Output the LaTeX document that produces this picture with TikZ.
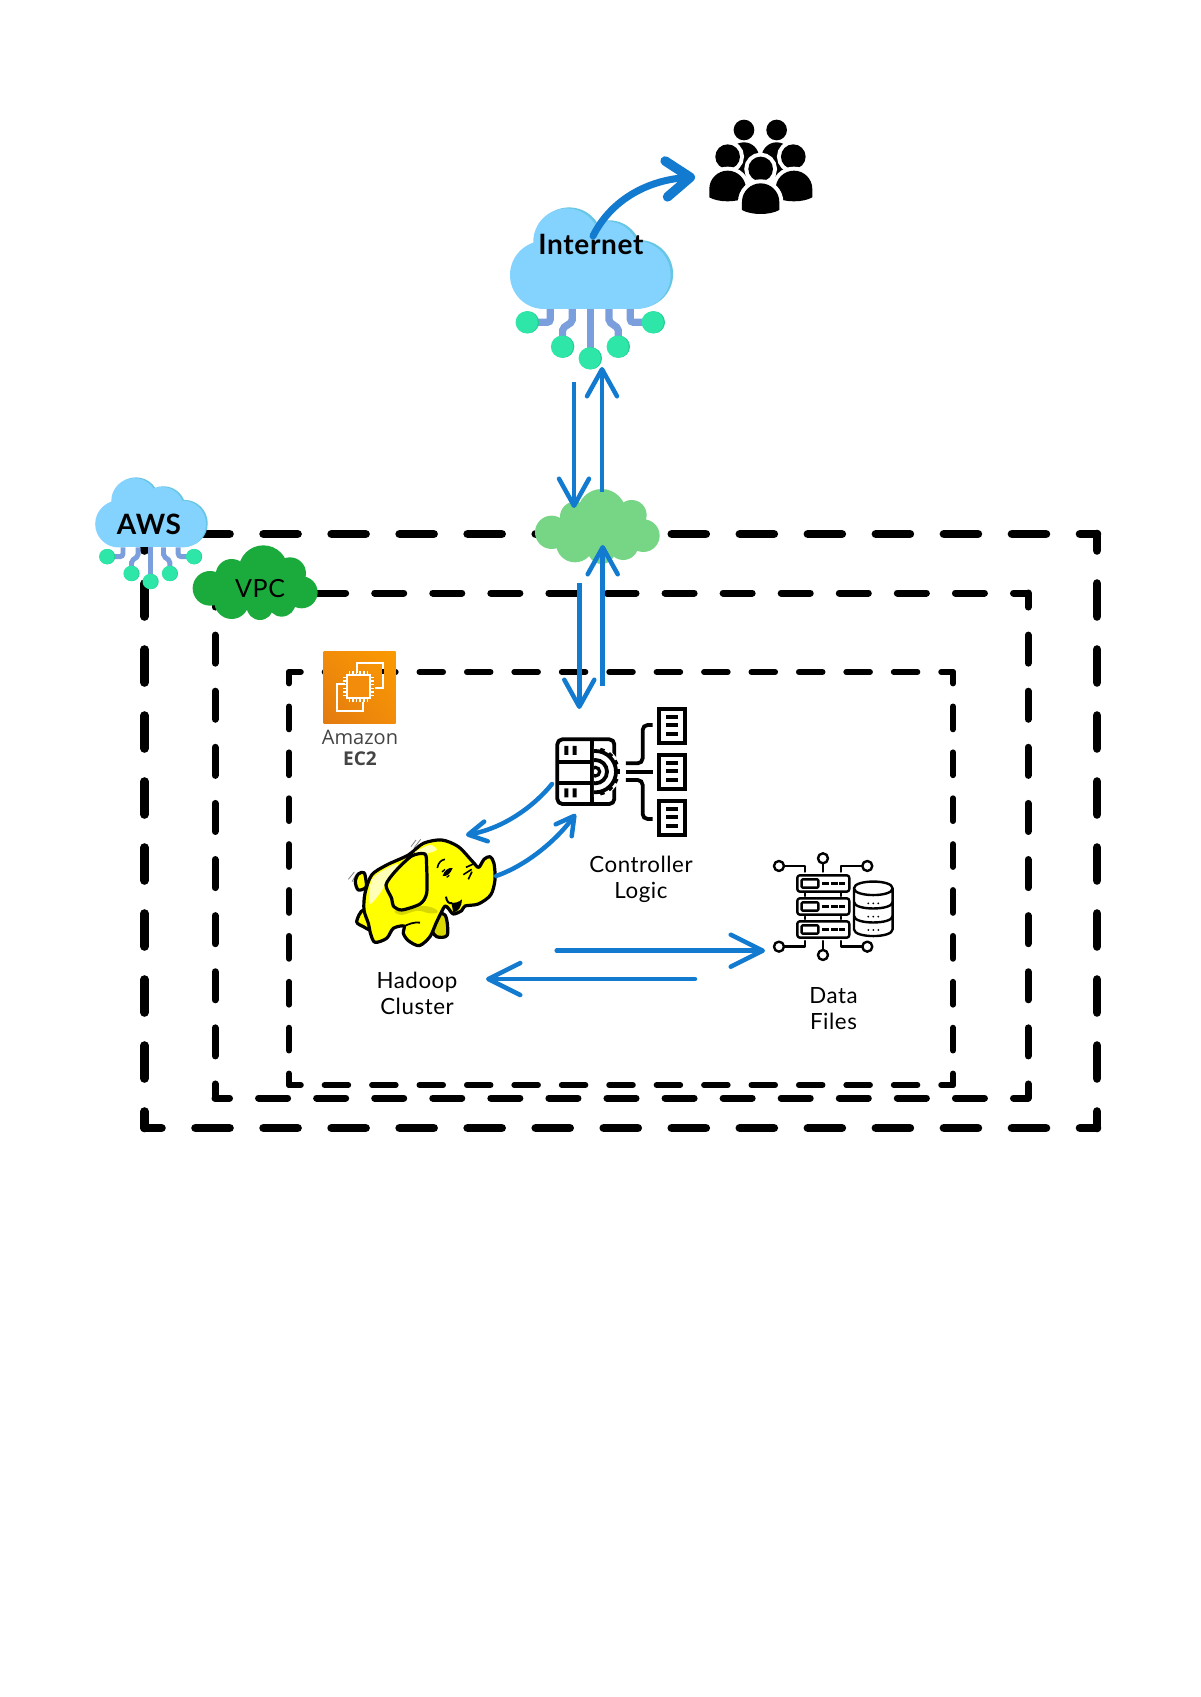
\documentclass[tikz,border=0pt]{standalone}
\usepackage{fontspec}
\setmainfont{Lato}[LetterSpace=2.5]
\newfontfamily\awsfont{Open Sans}
\usetikzlibrary{arrows.meta,shadings}
\definecolor{linkblue}{HTML}{127BD0}
\definecolor{skyblue}{HTML}{84D3FF}
\definecolor{skyedge}{HTML}{67C6E4}
\definecolor{wireblue}{HTML}{7B9FDC}
\definecolor{dotgreen}{HTML}{2EE6A8}
\definecolor{dotedge}{HTML}{22CC95}
\definecolor{vpcgreen}{HTML}{1AAB3C}
\definecolor{gategreen}{HTML}{77D685}
\definecolor{ecorange}{HTML}{F28C0A}
\definecolor{ecdark}{HTML}{E27A10}
\definecolor{ecbright}{HTML}{FA9A00}
\definecolor{awsgrey}{HTML}{444444}
\definecolor{hadoopyellow}{HTML}{FFFF00}
\definecolor{hadooppale}{HTML}{FFFFB8}
\definecolor{hadoopshade}{HTML}{D8D800}
\tikzset{>=latex}
\tikzset{link/.style={draw=linkblue, line width=4.5pt, -{Straight Barb[length=27pt,width=30pt,round]}}}
\tikzset{sidelink/.style={draw=linkblue, line width=4.5pt, line cap=round, -{Straight Barb[length=18pt,width=20pt,round]}}}
\tikzset{flatlink/.style={draw=linkblue, line width=4.5pt, line cap=round, -{Straight Barb[length=32pt,width=32pt,round]}}}
\tikzset{caption/.style={align=center, inner sep=0pt, font=\fontsize{22.3}{26}\selectfont}}
\tikzset{ringed/.style={preaction={draw=white, line width=8pt}, fill=black}}
\tikzset{thinicon/.style={draw=black, line width=2.4pt, line cap=round, line join=round}}
\tikzset{boldicon/.style={draw=black, line width=3.8pt, line join=round}}
\tikzset{elephantline/.style={draw=black, line width=3.2pt, line join=round}}

% cloud with its wires and green dots: x, y, scale
\newcommand{\netcloud}[3]{
  \begin{scope}[shift={(#1,#2)}, scale=#3]
    \begin{scope}[shift={(2.5,-1)}]
      \fill[skyedge] (-46.3,0) circle (34) (46.3,0) circle (34) (-23.7,-33.3) circle (33.3) (16.3,-21.7) circle (32);
      \fill[skyedge] (-46.3,-34) rectangle (46.3,34);
    \end{scope}
    \fill[skyblue] (-46.3,0) circle (34) (46.3,0) circle (34) (-23.7,-33.3) circle (33.3) (16.3,-21.7) circle (32);
    \fill[skyblue] (-46.3,-20) rectangle (46.3,34);
    \draw[draw=wireblue, line width=#3*7.2pt, rounded corners=3pt] (0,34) -- (0,83);
    \draw[draw=wireblue, line width=#3*7.2pt, rounded corners=3pt] (-40,34) -- (-40,47.3) -- (-63,47.3);
    \draw[draw=wireblue, line width=#3*7.2pt, rounded corners=2pt] (-18,34) -- (-18,46.7) -- (-27.7,53.3) -- (-27.7,71.7);
    \draw[draw=wireblue, line width=#3*7.2pt, rounded corners=2pt] (18.7,34) -- (18.7,46.7) -- (28,53.3) -- (28,71.7);
    \draw[draw=wireblue, line width=#3*7.2pt, rounded corners=3pt] (40,34) -- (40,47.3) -- (63,47.3);
    \foreach \dx/\dy in {-63/47.3, -27.7/71.7, 0/83.3, 28/71.7, 63/47.3} {
      \fill[dotedge] (\dx+0.6,\dy) circle (11.1);
      \fill[dotgreen] (\dx-0.6,\dy) circle (11.1);
    }
  \end{scope}
}
% one person: middle, half width, top, base
\newcommand{\bodydome}[4]{
  \path[ringed] (#1-#2,#4) -- (#1-#2,#3+#2) arc (180:360:#2) -- (#1+#2,#4)
    .. controls (#1+0.5*#2,#4+16) and (#1-0.5*#2,#4+16) .. (#1-#2,#4) -- cycle;
}

\begin{document}
\begin{tikzpicture}[x=1pt, y=-1pt]

\useasboundingbox (0,0) rectangle (1200,1697);
\fill[white] (0,0) rectangle (1200,1697);

% the three dashed boxes
\foreach \xa/\ya/\xb/\yb/\lw in {144.5/534/1097/1128/8.6, 215/593/1028/1098/7, 289/672/953/1085/5.8} {
  \pgfmathsetmacro{\onh}{(\xb-\xa)/28}
  \pgfmathsetmacro{\phh}{(\xb-\xa)/56}
  \pgfmathsetmacro{\onv}{(\yb-\ya)/18}
  \pgfmathsetmacro{\phv}{(\yb-\ya)/36}
  \draw[line width=\lw pt, line cap=round, dash pattern=on \onh pt off \onh pt, dash phase=\phh pt] (\xa,\ya) -- (\xb,\ya);
  \draw[line width=\lw pt, line cap=round, dash pattern=on \onh pt off \onh pt, dash phase=\phh pt] (\xa,\yb) -- (\xb,\yb);
  \draw[line width=\lw pt, line cap=round, dash pattern=on \onv pt off \onv pt, dash phase=\phv pt] (\xa,\ya) -- (\xa,\yb);
  \draw[line width=\lw pt, line cap=round, dash pattern=on \onv pt off \onv pt, dash phase=\phv pt] (\xb,\ya) -- (\xb,\yb);
}

\netcloud{590.3}{275}{1}
\netcloud{150.6}{524}{0.69}

% VPC cloud
\begin{scope}[shift={(80,460)}, scale=.3333]
  \fill[vpcgreen] (390,385) circle (52) (455,345) circle (48) (550,330) circle (74) (630,340) circle (48)
    (665,397) circle (48) (455,425) circle (52) (540,440) circle (40) (605,428) circle (42);
  \fill[vpcgreen] (420,340) rectangle (660,430);
\end{scope}

% gateway cloud
\begin{scope}[shift={(500,370)}, scale=.3333]
  \fill[gategreen] (155,487) circle (50) (225,440) circle (45) (305,430) circle (73) (395,435) circle (45)
    (430,497) circle (49) (225,520) circle (57) (305,540) circle (42) (370,525) circle (45);
  \fill[gategreen] (180,440) rectangle (430,530);
\end{scope}

% people
\begin{scope}[shift={(450,80)}, scale=.3333]
  \fill (882,150) circle (31) (980,150) circle (31);
  \fill (837,290) -- (837,232) arc (180:360:45) -- (927,290) -- cycle;
  \fill (935,290) -- (935,232) arc (180:360:45) -- (1025,290) -- cycle;
  \path[ringed] (833,230) circle (37);
  \path[ringed] (1030,230) circle (37);
  \bodydome{833}{55}{272}{352}
  \bodydome{1032}{55}{272}{352}
  \path[ringed] (932,267) circle (37);
  \bodydome{932}{56}{310}{390}
\end{scope}

% EC2 square
\begin{scope}[shift={(80,460)}, scale=.3333]
  \shade[lower left=ecdark, upper right=ecbright, lower right=ecorange, upper left=ecorange] (731,575) rectangle (947,791);
  \draw[white, line width=1.8pt] (830,640) -- (830,610) -- (910,610) -- (910,685) -- (885,685);
  \draw[white, line width=1.8pt] (795,672) -- (770,672) -- (770,752) -- (850,752) -- (850,725);
  \fill[ecorange] (801,645) rectangle (870,714);
  \draw[white, line width=2.2pt] (801,645) rectangle (870,714);
  \foreach \t in {0,1,...,5} {
    \draw[white, line width=1.5pt] (809+\t*10.6,634) -- (809+\t*10.6,645);
    \draw[white, line width=1.5pt] (809+\t*10.6,714) -- (809+\t*10.6,725);
    \draw[white, line width=1.5pt] (790,653+\t*10.6) -- (801,653+\t*10.6);
    \draw[white, line width=1.5pt] (870,653+\t*10.6) -- (881,653+\t*10.6);
  }
  \draw[black, line width=1.8pt] (910,626) -- (910,642);
\end{scope}

% controller
\begin{scope}[shift={(520,640)}, scale=.3333]
  \draw[boldicon, rounded corners=5pt] (112,298) rectangle (283,492);
  \draw[boldicon] (112,365) -- (215,365) (112,428) -- (215,428) (217,298) -- (217,492);
  \fill (133,318) rectangle (145,345) (158,318) rectangle (170,345) (133,445) rectangle (145,472) (158,445) rectangle (170,472);
  \begin{scope}
    \clip (222,300) rectangle (320,490);
    \begin{scope}[shift={(226,395)}]
      \fill[white] (0,0) circle (76);
      \draw[boldicon] (0,0) circle (62);
      \foreach \a in {-72,-48,-24,0,24,48,72} {
        \draw[line width=4.5pt] (\a:62) -- (\a:73);
      }
      \draw[line width=3.8pt] (0,0) circle (35);
      \draw[line width=3.2pt] (0,0) circle (13);
    \end{scope}
  \end{scope}
  \draw[line width=3.8pt, rounded corners=5pt] (318,370) -- (368,370) -- (368,255) -- (398,255);
  \draw[line width=3.8pt] (318,395) -- (398,395);
  \draw[line width=3.8pt, rounded corners=5pt] (318,420) -- (368,420) -- (368,537) -- (398,537);
  \foreach \ytop in {204,342,480} {
    \draw[line width=4.2pt] (417,\ytop+2) rectangle (494,\ytop+106);
    \foreach \off in {27,52,77} {
      \fill (437,\ytop+\off-6) rectangle (473,\ytop+\off+6);
    }
  }
\end{scope}

% data files
\begin{scope}[shift={(520,640)}, scale=.3333]
  \draw[thinicon] (777,678) circle (15) (909,655) circle (15) (1042,678) circle (15)
    (777,920) circle (15) (909,945) circle (15) (1042,920) circle (15);
  \draw[thinicon] (792,678) -- (855,678) -- (855,695) (909,670) -- (909,695) (1027,678) -- (963,678) -- (963,695);
  \draw[thinicon] (792,920) -- (855,920) -- (855,903) (909,930) -- (909,903) (1027,920) -- (963,920) -- (963,903);
  \foreach \ytop in {706,775,844} {
    \draw[thinicon, rounded corners=2.5pt] (832,\ytop) rectangle (988,\ytop+49);
    \draw[thinicon, rounded corners=1pt] (845,\ytop+12) rectangle (895,\ytop+37);
    \draw[thinicon, line cap=butt] (907,\ytop+24) -- (928,\ytop+24) (934,\ytop+24) -- (953,\ytop+24) (958,\ytop+24) -- (975,\ytop+24);
  }
  \draw[thinicon] (855,760) -- (855,768) (963,760) -- (963,768) (855,830) -- (855,837) (963,830) -- (963,837);
  \draw[thinicon] (1002,745) .. controls (1002,718) and (1118,718) .. (1118,745)
    .. controls (1118,772) and (1002,772) .. (1002,745) -- (1002,868)
    .. controls (1002,895) and (1118,895) .. (1118,868) -- (1118,745);
  \draw[thinicon] (1002,786) .. controls (1002,812) and (1118,812) .. (1118,786);
  \draw[thinicon] (1002,828) .. controls (1002,854) and (1118,854) .. (1118,828);
  \foreach \dy in {790,830,870} {
    \fill (1045,\dy) circle (3) (1060,\dy) circle (3) (1075,\dy) circle (3);
  }
\end{scope}

% elephant
\begin{scope}[shift={(330,780)}, scale=.3333]
  \draw[gray, line width=.8pt] (243,200) -- (258,180) (252,204) -- (272,178);
  \draw[gray, line width=.8pt] (55,298) -- (73,276) (66,305) -- (78,284);
  \draw[elephantline, fill=hadoopyellow] plot[smooth cycle, tension=.55] coordinates {(108,322) (85,330) (76,305) (85,282) (102,278) (108,302)};
  \draw[elephantline, fill=hadoopyellow] plot[smooth cycle, tension=.5] coordinates {(100,390) (80,425) (100,440) (125,450) (140,420)};
  \draw[elephantline, fill=hadoopshade] plot[smooth cycle, tension=.5] coordinates {(300,400) (345,405) (352,465) (320,470) (300,440)};
  \draw[elephantline, fill=hadoopyellow] plot[smooth cycle, tension=.5] coordinates {(335,180) (385,200) (428,245) (446,262) (462,238) (480,230) (492,250) (495,300) (482,345) (445,372) (405,378) (395,392) (370,402) (355,385) (345,378) (335,395) (318,430) (300,470) (268,497) (235,482) (220,460) (222,438) (190,445) (170,475) (135,487) (122,462) (115,430) (102,390) (105,340) (125,285) (170,255) (235,225) (280,190)};
  \fill[hadooppale] plot[smooth cycle, tension=.5] coordinates {(255,216) (300,195) (320,210) (275,224)};
  \fill[hadooppale] plot[smooth cycle, tension=.5] coordinates {(125,300) (165,268) (205,252) (172,300) (150,340) (118,372)};
  \fill[hadoopshade] plot[smooth cycle, tension=.5] coordinates {(195,392) (280,378) (318,388) (322,398) (298,400) (262,392) (215,405)};
  \draw[elephantline, fill=hadoopyellow] plot[smooth cycle, tension=.45] coordinates {(245,228) (285,222) (290,260) (290,340) (270,372) (215,390) (190,378) (185,355) (168,315) (195,275)};
  \draw[black, line width=1.6pt] (322,264) .. controls (325,248) and (333,240) .. (345,238);
  \fill[black] (338,288) .. controls (342,272) and (355,262) .. (368,264) .. controls (362,280) and (352,290) .. (338,288) -- cycle;
  \draw[black, line width=1.3pt] (336,276) -- (345,268) (350,292) -- (358,286);
  \draw[black, line width=1.6pt] (408,262) -- (430,252) (400,284) -- (425,268) (415,298) -- (426,275);
  \fill[black] (364,368) .. controls (375,370) and (388,366) .. (396,358) .. controls (396,378) and (384,398) .. (370,397) -- cycle;
  \draw[black, line width=2pt] (348,350) .. controls (350,366) and (358,372) .. (366,369);
  \draw[black, line width=1.8pt] (220,440) .. controls (235,432) and (255,425) .. (270,428);
\end{scope}

% labels
\node[inner sep=0pt, font=\fontsize{28}{32}\selectfont\bfseries] (internet) at (591,244.5) {Internet};
\node[inner sep=0pt, font=\fontsize{28}{32}\selectfont\bfseries] (aws) at (149,524) {AWS};
\node[inner sep=0pt, font=\fontsize{25}{28}\selectfont] (vpc) at (260,589) {VPC};
\node[inner sep=0pt, align=center, text=awsgrey, font=\awsfont\fontsize{20}{22}\selectfont] (amazon) at (360,737) {Amazon};
\node[inner sep=0pt, align=center, text=awsgrey, font=\awsfont\fontsize{19}{22}\selectfont\bfseries] (ectwo) at (360,758.5) {EC2};
\node[caption] (controllertext) at (641,879) {Controller\\Logic};
\node[caption] (hadooptext) at (417,993.5) {Hadoop\\Cluster};
\node[caption] (datatext) at (833.5,1008.5) {Data\\Files};

% link ends
\coordinate (netin) at (574,382);
\coordinate (gatein) at (574,508);
\coordinate (gateout) at (602,492);
\coordinate (netout) at (602,367);
\coordinate (gatedown) at (579.3,583);
\coordinate (controlin) at (579.3,709);
\coordinate (controlout) at (602.7,686);
\coordinate (gateup) at (602.7,545);
\coordinate (hadoopin) at (466,835);
\coordinate (controlleft) at (552,784);
\coordinate (hadoopout) at (496,876);
\coordinate (controlbelow) at (575.7,814);
\coordinate (datain) at (765,950.7);
\coordinate (dataleft) at (556.7,950.7);
\coordinate (databack) at (695,979);
\coordinate (hadoopback) at (486,979);
\coordinate (cloudtop) at (593,236);
\coordinate (people) at (695,177);

\draw[link] (netin) -- (gatein);
\draw[link] (gateout) -- (netout);
\draw[link] (gatedown) -- (controlin);
\draw[link] (controlout) -- (gateup);
\draw[sidelink] (controlleft) .. controls (535,805) and (505,828) .. (hadoopin);
\draw[sidelink] (hadoopout) .. controls (525,866) and (555,842) .. (controlbelow);
\draw[flatlink] (dataleft) -- (datain);
\draw[flatlink] (databack) -- (hadoopback);
\draw[draw=linkblue, line width=7pt, line cap=round, -{Straight Barb[length=24pt,width=36pt,line width=9.5pt,round]}]
  (cloudtop) .. controls (612,198) and (650,180) .. (people);

\end{tikzpicture}
\end{document}
